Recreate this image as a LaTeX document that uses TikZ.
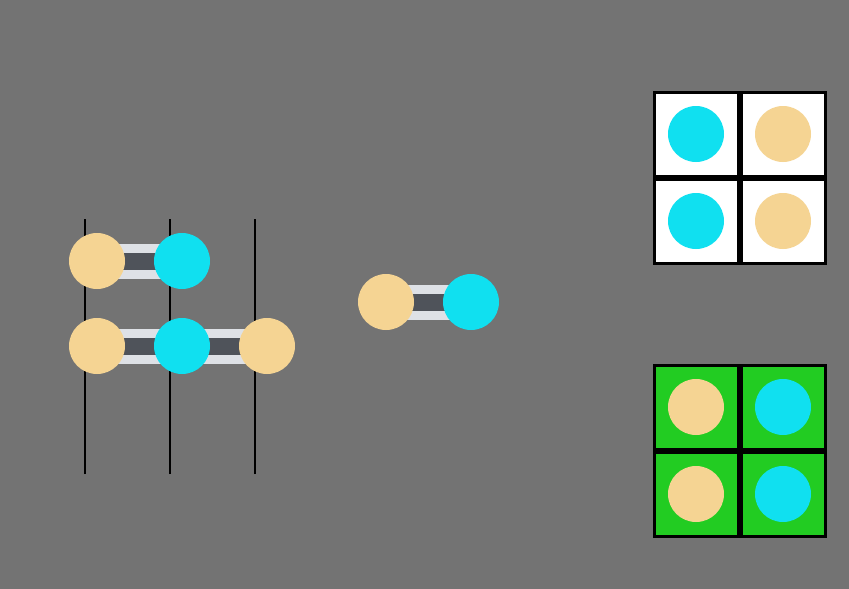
\documentclass[tikz,border=0pt]{standalone}
\usetikzlibrary{positioning}
\definecolor{bg}{HTML}{737373}
\definecolor{tan}{HTML}{F5D493}
\definecolor{cyanball}{HTML}{10E0F0}
\definecolor{bondlight}{HTML}{DEE1E6}
\definecolor{bonddark}{HTML}{4F535A}
\definecolor{cellgreen}{HTML}{22CC22}
\begin{document}
\begin{tikzpicture}
        [
            x=1pt, y=-1pt,
            ball/.style={circle, minimum size=56pt, inner sep=0pt},
            tanball/.style={ball, fill=tan},
            cyanb/.style={ball, fill=cyanball},
            cell/.style={draw=black, line width=3pt, minimum size=84pt, inner sep=0pt},
            bond/.style={line width=35pt, bondlight},
            bondin/.style={line width=17pt, bonddark}
        ]
        \fill[bg] (0,0) rectangle (849,589);
        \useasboundingbox (0,0) rectangle (849,589);
        %grid
        \draw[black, line width=1.5pt] (55,219) grid[step=85] (310,474);
        %molecules in grid
        \coordinate (r1a) at (97,261);
        \coordinate (r1b) at (182,261);
        \coordinate (r2a) at (97,346);
        \coordinate (r2c) at (267,346);
        \draw[bond] (r1a) -- (r1b);
        \draw[bondin] (r1a) -- (r1b);
        \draw[bond] (r2a) -- (r2c);
        \draw[bondin] (r2a) -- (r2c);
        \node[tanball] at (r1a) (g1) {};
        \node[cyanb] at (r1b) (g2) {};
        \node[tanball] at (r2a) (g3) {};
        \node[cyanb] at (182,346) (g4) {};
        \node[tanball] at (r2c) (g5) {};
        %free molecule
        \coordinate (ma) at (386,302);
        \coordinate (mb) at (471,302);
        \draw[bond] (ma) -- (mb);
        \draw[bondin] (ma) -- (mb);
        \node[tanball] at (ma) (m1) {};
        \node[cyanb] at (mb) (m2) {};
        %white box
        \node[cell, fill=white] at (696,134) (w1) {};
        \node[cell, fill=white, right=0pt of w1] (w2) {};
        \node[cell, fill=white, below=0pt of w1] (w3) {};
        \node[cell, fill=white, below=0pt of w2] (w4) {};
        \node[cyanb] at (w1) {};
        \node[tanball] at (w2) {};
        \node[cyanb] at (w3) {};
        \node[tanball] at (w4) {};
        %green box
        \node[cell, fill=cellgreen] at (696,407) (c1) {};
        \node[cell, fill=cellgreen, right=0pt of c1] (c2) {};
        \node[cell, fill=cellgreen, below=0pt of c1] (c3) {};
        \node[cell, fill=cellgreen, below=0pt of c2] (c4) {};
        \node[tanball] at (c1) {};
        \node[cyanb] at (c2) {};
        \node[tanball] at (c3) {};
        \node[cyanb] at (c4) {};
    \end{tikzpicture}
\end{document}
